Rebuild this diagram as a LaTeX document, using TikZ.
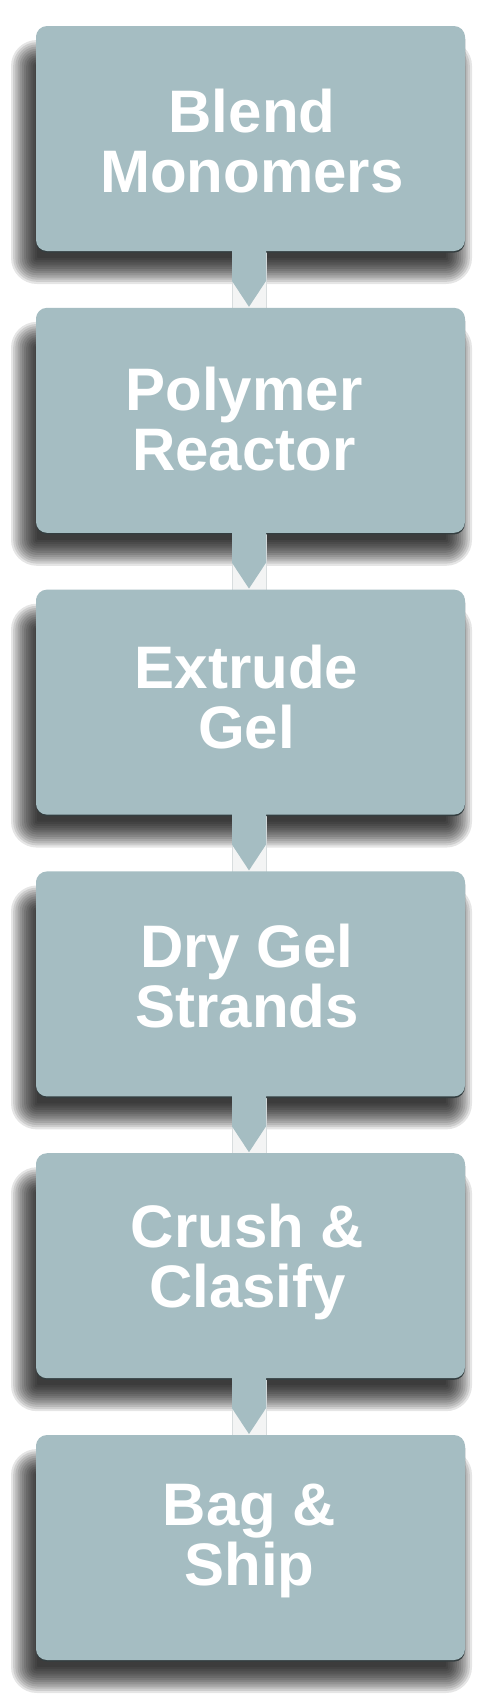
\documentclass[tikz,border=0pt]{standalone}
\usepackage{fontspec}
\setmainfont{Liberation Sans}
\usetikzlibrary{calc}
\definecolor{boxfill}{RGB}{165,189,194}
\definecolor{edgedark}{RGB}{52,62,64}
\definecolor{colfill}{RGB}{243,244,244}
\definecolor{coledge}{RGB}{216,221,222}
\newcommand{\twoline}[2]{\vtop{\halign{\hfil##\hfil\cr #1\cr #2\cr}}}
\begin{document}
\begin{tikzpicture}[x=1pt,y=-1pt,
  box/.style={draw=none,fill=boxfill,rounded corners=11pt,minimum width=429pt,
    minimum height=225pt,inner sep=0pt,outer sep=0pt},
  lbl/.style={text=white,font=\bfseries\fontsize{60}{60}\selectfont,inner sep=0pt,anchor=base},
  arrowfill/.style={fill=boxfill},
  shadowlayer/.style={fill=black,opacity=0.1},
  bottomedge/.style={fill=edgedark,rounded corners=11pt},
  colstrip/.style={fill=colfill},
  coledgeline/.style={draw=coledge,line width=0.7pt}]
\useasboundingbox (0,0) rectangle (500,1700);
\fill[white] (0,0) rectangle (500,1700);
% blurred drop shadows
\foreach \t in {26,307.8,589.6,871.4,1153.2,1435}{
  \foreach \k in {0,...,12}{
    \pgfmathsetmacro\e{13-26*\k/12}
    \pgfmathsetmacro\r{max(1,13+\e)}
    \fill[shadowlayer,rounded corners=\r pt] (24-\e,\t+27-\e) rectangle (459+\e,\t+245+\e);
  }
}
% light strips behind the connectors
\foreach \t/\n in {26/307.8,307.8/589.6,589.6/871.4,871.4/1153.2,1153.2/1435}{
  \fill[colstrip] (232,\t+224) rectangle (266,\n+1);
  \draw[coledgeline] (232,\t+224) -- (232,\n+1);
  \draw[coledgeline] (266,\t+224) -- (266,\n+1);
}
% dark bottom edges
\foreach \t in {26,307.8,589.6,871.4,1153.2,1435}{
  \fill[bottomedge] (36,\t+2) rectangle (465,\t+226.6);
}
% boxes
\node[box] (b1) at (250.5,26+112.5) {};
\node[box] (b2) at (250.5,307.8+112.5) {};
\node[box] (b3) at (250.5,589.6+112.5) {};
\node[box] (b4) at (250.5,871.4+112.5) {};
\node[box] (b5) at (250.5,1153.2+112.5) {};
\node[box] (b6) at (250.5,1435+112.5) {};
% connectors
\foreach \a/\b in {b1/b2,b2/b3,b3/b4,b4/b5,b5/b6}{
  \fill[arrowfill] ($(\a.south)+(-18.5,-1)$) -- ($(\a.south)+(15.5,-1)$)
    -- ($(\a.south)+(15.5,30)$) -- ($(\b.north)+(-1.5,-1)$)
    -- ($(\a.south)+(-18.5,30)$) -- cycle;
}
% labels
\node[lbl] (t1) at (252,132) {\twoline{Blend}{Monomers}};
\node[lbl] (t2) at (244,410) {\twoline{Polymer}{Reactor}};
\node[lbl] (t3) at (246.5,688) {\twoline{Extrude}{Gel}};
\node[lbl] (t4) at (247,967) {\twoline{Dry Gel}{Strands}};
\node[lbl] (t5) at (247.5,1247) {\twoline{Crush \&}{Clasify}};
\node[lbl] (t6) at (249.5,1525) {\twoline{Bag \&}{Ship}};
\end{tikzpicture}
\end{document}
